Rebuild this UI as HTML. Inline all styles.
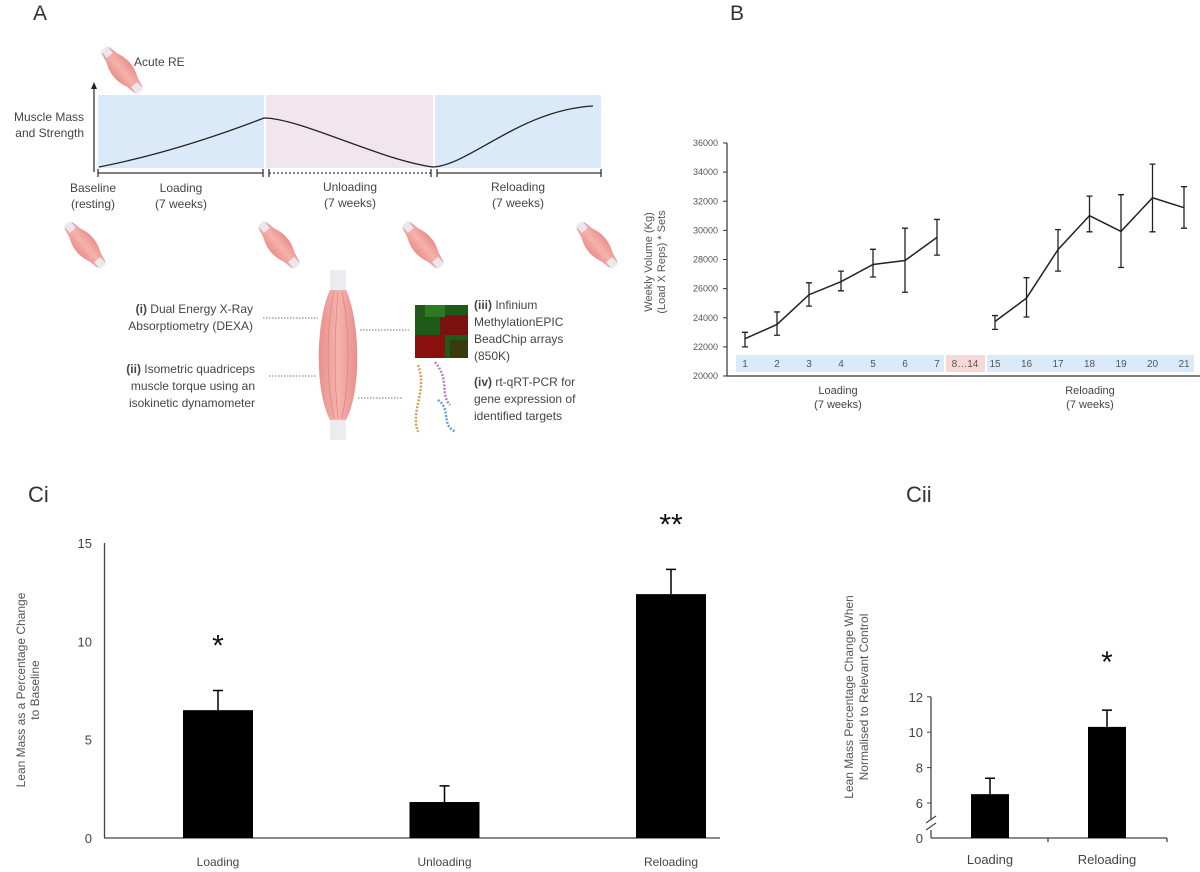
<!DOCTYPE html>
<html><head><meta charset="utf-8"><style>
html,body{margin:0;padding:0;background:#fff;width:1200px;height:872px;overflow:hidden}
svg{display:block;font-family:"Liberation Sans",sans-serif}
</style></head><body>
<svg width="1200" height="872" viewBox="0 0 1200 872">
<defs>
<linearGradient id="mus" x1="0" x2="1"><stop offset="0" stop-color="#e98f8c"/><stop offset="0.5" stop-color="#f5b3ac"/><stop offset="1" stop-color="#e98f8c"/></linearGradient>
<g id="smallmuscle"><path d="M-5,-26 L5,-26 L7,-16 C12,-5 12,5 7,16 L5,26 L-5,26 L-7,16 C-12,5 -12,-5 -7,-16 Z" fill="url(#mus)"/><rect x="-4" y="-28" width="8" height="9" fill="#e8e8ee"/><rect x="-4" y="19" width="8" height="9" fill="#e8e8ee"/></g>
</defs>

<!-- PANEL A -->
<g>
<text x="33" y="20" font-size="21" fill="#333">A</text>
<use href="#smallmuscle" transform="translate(122,70) rotate(-40)"/>
<text x="134" y="66" font-size="12" fill="#444">Acute RE</text>
<rect x="98" y="95" width="166" height="73" fill="#dbeaf8"/>
<rect x="266" y="95" width="167" height="73" fill="#f1e6ee"/>
<rect x="435" y="95" width="166" height="73" fill="#dbeaf8"/>
<line x1="94" y1="172" x2="94" y2="88" stroke="#222" stroke-width="1.2"/>
<path d="M91,89 L94,82 L97,89 Z" fill="#222"/>
<text x="84" y="121" font-size="12" fill="#444" text-anchor="end"><tspan x="84">Muscle Mass</tspan><tspan x="84" dy="16">and Strength</tspan></text>
<path d="M99,167 C160,155 220,135 264,118 C300,118 380,160 433,167 C470,165 520,110 593,106" fill="none" stroke="#222" stroke-width="1.3"/>
<g stroke="#333" stroke-width="1.3">
<line x1="98" y1="173" x2="263" y2="173"/><line x1="98" y1="169" x2="98" y2="177"/><line x1="263" y1="169" x2="263" y2="177"/>
<line x1="269" y1="173" x2="431" y2="173" stroke-dasharray="2,2"/><line x1="269" y1="169" x2="269" y2="177"/><line x1="431" y1="169" x2="431" y2="177"/>
<line x1="437" y1="173" x2="601" y2="173"/><line x1="437" y1="169" x2="437" y2="177"/><line x1="601" y1="169" x2="601" y2="177"/>
</g>
<g font-size="12" fill="#444" text-anchor="middle">
<text x="93" y="192"><tspan x="93">Baseline</tspan><tspan x="93" dy="16">(resting)</tspan></text>
<text x="181" y="192"><tspan x="181">Loading</tspan><tspan x="181" dy="16">(7 weeks)</tspan></text>
<text x="350" y="191"><tspan x="350">Unloading</tspan><tspan x="350" dy="16">(7 weeks)</tspan></text>
<text x="518" y="191"><tspan x="518">Reloading</tspan><tspan x="518" dy="16">(7 weeks)</tspan></text>
</g>
<use href="#smallmuscle" transform="translate(85,245) rotate(-40)"/>
<use href="#smallmuscle" transform="translate(279,245) rotate(-40)"/>
<use href="#smallmuscle" transform="translate(423,245) rotate(-40)"/>
<use href="#smallmuscle" transform="translate(597,245) rotate(-40)"/>
<g>
<rect x="330" y="270" width="16" height="22" fill="#ececf0"/>
<rect x="330" y="418" width="16" height="22" fill="#ececf0"/>
<path d="M330,290 L346,290 C360,320 362,390 346,420 L330,420 C314,390 316,320 330,290 Z" fill="url(#mus)"/>
<g stroke="#d87c7a" stroke-width="0.6" fill="none"><path d="M334,292 C326,330 326,380 334,418"/><path d="M338,292 C334,340 334,380 338,418"/><path d="M342,292 C350,330 350,380 342,418"/></g>
</g>
<g font-size="12" fill="#444" text-anchor="end">
<text x="253" y="313"><tspan x="253"><tspan font-weight="bold">(i)</tspan> Dual Energy X-Ray</tspan><tspan x="253" dy="17">Absorptiometry (DEXA)</tspan></text>
<text x="255" y="373"><tspan x="255"><tspan font-weight="bold">(ii)</tspan> Isometric quadriceps</tspan><tspan x="255" dy="17">muscle torque using an</tspan><tspan x="255" dy="17">isokinetic dynamometer</tspan></text>
</g>
<g stroke="#777" stroke-width="1" stroke-dasharray="1.5,1.5">
<line x1="263" y1="318" x2="318" y2="318"/><line x1="269" y1="376" x2="316" y2="376"/>
<line x1="360" y1="330" x2="409" y2="330"/><line x1="358" y1="398" x2="403" y2="398"/>
</g>
<g>
<rect x="415" y="305" width="53" height="53" fill="#1f5a18"/>
<rect x="440" y="315" width="28" height="20" fill="#7a1212"/>
<rect x="415" y="335" width="30" height="23" fill="#8a1010"/>
<rect x="425" y="305" width="20" height="12" fill="#2e7a20"/>
<rect x="450" y="340" width="18" height="18" fill="#3a3a10"/>
</g>
<g font-size="12" fill="#444">
<text x="474" y="309"><tspan x="474"><tspan font-weight="bold">(iii)</tspan> Infinium</tspan><tspan x="474" dy="17">MethylationEPIC</tspan><tspan x="474" dy="17">BeadChip arrays</tspan><tspan x="474" dy="17">(850K)</tspan></text>
<text x="474" y="386"><tspan x="474"><tspan font-weight="bold">(iv)</tspan> rt-qRT-PCR for</tspan><tspan x="474" dy="17">gene expression of</tspan><tspan x="474" dy="17">identified targets</tspan></text>
</g>
<g fill="none" stroke-width="2.5" stroke-dasharray="2,1.5">
<path d="M418,365 C428,390 410,410 418,432" stroke="#d8a04a"/>
<path d="M435,362 C450,380 440,395 450,405" stroke="#c07acb"/>
<path d="M438,400 C452,410 440,425 456,432" stroke="#6a9fd8"/>
</g>
</g>

<!-- PANEL B -->
<text x="730" y="20" font-size="21" fill="#333">B</text>
<g id="chartB"></g>

<!-- PANEL Ci -->
<text x="28" y="502" font-size="22" fill="#333">Ci</text>
<g id="chartCi"></g>

<!-- PANEL Cii -->
<text x="906" y="502" font-size="22" fill="#333">Cii</text>
<g id="chartCii"></g>
</svg>

<script>
// ---- Panel B data ----
const bWeeks = [1,2,3,4,5,6,7,15,16,17,18,19,20,21];
const bMeans = [22560,23540,25580,26480,27660,27930,29520,23740,25350,28680,31010,29930,32240,31560];
const bLow   = [22000,22800,24800,25850,26800,25750,28300,23200,24050,27200,29900,27450,29900,30150];
const bHigh  = [23000,24400,26400,27200,28700,30150,30750,24150,26750,30050,32350,32450,34550,33000];
const bTicks = [20000,22000,24000,26000,28000,30000,32000,34000,36000];

// ---- Panel Ci data ----
const ciCats = ["Loading","Unloading","Reloading"];
const ciVals = [6.5,1.83,12.4];
const ciErr  = [1.0,0.82,1.26];
const ciSig  = ["*","","**"];
const ciTicks = [0,5,10,15];

// ---- Panel Cii data ----
const ciiCats = ["Loading","Reloading"];
const ciiVals = [6.5,10.3];
const ciiErr  = [0.9,0.95];
const ciiSig  = ["","*"];
const ciiTicks = [6,8,10,12];

const NS = "http://www.w3.org/2000/svg";
function mk(parent, tag, attrs, text){
  const e = document.createElementNS(NS, tag);
  for (const k in attrs) e.setAttribute(k, attrs[k]);
  if (text !== undefined) e.textContent = text;
  parent.appendChild(e); return e;
}

// ===== B =====
(function(){
  const g = document.getElementById('chartB');
  const y = v => 376 - (v - 20000) * (233/16000);
  const x = w => w <= 7 ? 745 + (w-1)*32 : 995 + (w-15)*31.5;
  let r = mk(g,'rect',{x:736,y:355,width:208,height:17,fill:'#dbeaf8'});
   
  r = mk(g,'rect',{x:946,y:355,width:39,height:17,fill:'#f6d9d6'});
   
  r = mk(g,'rect',{x:987,y:355,width:207,height:17,fill:'#dbeaf8'});
   
  let ax = mk(g,'line',{x1:727,y1:y(36000),x2:727,y2:376,stroke:'#333','stroke-width':1.2});
   
  ax = mk(g,'line',{x1:727,y1:376,x2:1200,y2:376,stroke:'#333','stroke-width':1.2});
   
  bTicks.forEach(t=>{
    mk(g,'line',{x1:723,y1:y(t),x2:727,y2:y(t),stroke:'#333'});
    const tl = mk(g,'text',{x:718,y:y(t)+3,'font-size':9,fill:'#555','text-anchor':'end'},String(t));
     
  });
  bWeeks.forEach(w=>{
    const tl = mk(g,'text',{x:x(w),y:367,'font-size':10,fill:'#555','text-anchor':'middle'},String(w));
     
  });
  let t8 = mk(g,'text',{x:965,y:367,'font-size':10,fill:'#555','text-anchor':'middle'},'8…14');
   
  [[0,7],[7,14]].forEach((seg,si)=>{
    let d='';
    for(let i=seg[0];i<seg[1];i++) d += (i===seg[0]?'M':'L') + x(bWeeks[i]) + ',' + y(bMeans[i]);
    const p = mk(g,'path',{d:d,fill:'none',stroke:'#222','stroke-width':1.5});
    
    
  });
  bWeeks.forEach((w,i)=>{
    const eb = mk(g,'path',{d:`M${x(w)},${y(bLow[i])}V${y(bHigh[i])}M${x(w)-3},${y(bLow[i])}h6M${x(w)-3},${y(bHigh[i])}h6`,stroke:'#222','stroke-width':1.3,fill:'none'});
     
  });
  let l = mk(g,'text',{x:838,y:394,'font-size':11,fill:'#444','text-anchor':'middle'});
   
  mk(l,'tspan',{x:838},'Loading'); mk(l,'tspan',{x:838,dy:14},'(7 weeks)');
  l = mk(g,'text',{x:1090,y:394,'font-size':11,fill:'#444','text-anchor':'middle'});
   
  mk(l,'tspan',{x:1090},'Reloading'); mk(l,'tspan',{x:1090,dy:14},'(7 weeks)');
  l = mk(g,'text',{transform:'translate(652,262) rotate(-90)','font-size':11,fill:'#555','text-anchor':'middle'});
   
  mk(l,'tspan',{x:0,y:0},'Weekly Volume (Kg)'); mk(l,'tspan',{x:0,y:13},'(Load X Reps) * Sets');
})();

// ===== Ci =====
(function(){
  const g = document.getElementById('chartCi');
  const y = v => 838 - v * (295/15);
  const xc = i => 218 + i*226.5;
  let ax = mk(g,'line',{x1:104.5,y1:y(15),x2:104.5,y2:838,stroke:'#444','stroke-width':1.3});
   
  ax = mk(g,'line',{x1:104,y1:838,x2:720,y2:838,stroke:'#444','stroke-width':1.3});
   
  ciTicks.forEach(t=>{
    const tl = mk(g,'text',{x:92,y:y(t)+5,'font-size':13,fill:'#444','text-anchor':'end'},String(t));
     
  });
  ciCats.forEach((c,i)=>{
    const b = mk(g,'rect',{x:xc(i)-35,y:y(ciVals[i]),width:70,height:838-y(ciVals[i]),fill:'#000'});
     
    const eb = mk(g,'path',{d:`M${xc(i)},${y(ciVals[i])}V${y(ciVals[i]+ciErr[i])}M${xc(i)-5},${y(ciVals[i]+ciErr[i])}h10`,stroke:'#000','stroke-width':1.5,fill:'none'});
     
    const tl = mk(g,'text',{x:xc(i),y:866,'font-size':12,fill:'#444','text-anchor':'middle'},c);
     
    if (ciSig[i]) {
      const s = mk(g,'text',{x:xc(i),y:y(ciVals[i]+ciErr[i]) - 35,'font-size':30,fill:'#111','text-anchor':'middle'},ciSig[i]);
       
    }
  });
  const l = mk(g,'text',{transform:'translate(25,690) rotate(-90)','font-size':12,fill:'#555','text-anchor':'middle'});
   
  mk(l,'tspan',{x:0,y:0},'Lean Mass as a Percentage Change'); mk(l,'tspan',{x:0,y:14},'to Baseline');
})();

// ===== Cii =====
(function(){
  const g = document.getElementById('chartCii');
  const y = v => 803 - (v - 6) * 17.7;
  const xc = i => 990 + i*117;
  let ax = mk(g,'path',{d:'M931,697V820M931,830V838',stroke:'#444','stroke-width':1.3,fill:'none'});
   
  const br = mk(g,'path',{d:'M926,823 L936,816 M926,830 L936,823',stroke:'#444','stroke-width':1.2});
   
  ax = mk(g,'path',{d:'M931,838H1167M1048,838v4M1167,838v4',stroke:'#444','stroke-width':1.3,fill:'none'});
   
  ciiTicks.forEach(t=>{
    mk(g,'line',{x1:927,y1:y(t),x2:931,y2:y(t),stroke:'#444'});
    const tl = mk(g,'text',{x:923,y:y(t)+5,'font-size':13,fill:'#444','text-anchor':'end'},String(t));
     
  });
  const z = mk(g,'text',{x:923,y:843,'font-size':13,fill:'#444','text-anchor':'end'},'0');
   
  ciiCats.forEach((c,i)=>{
    const b = mk(g,'rect',{x:xc(i)-19,y:y(ciiVals[i]),width:38,height:838-y(ciiVals[i]),fill:'#000'});
     
    const eb = mk(g,'path',{d:`M${xc(i)},${y(ciiVals[i])}V${y(ciiVals[i]+ciiErr[i])}M${xc(i)-5},${y(ciiVals[i]+ciiErr[i])}h10`,stroke:'#000','stroke-width':1.5,fill:'none'});
     
    const tl = mk(g,'text',{x:xc(i),y:864,'font-size':13,fill:'#444','text-anchor':'middle'},c);
     
    if (ciiSig[i]) {
      const s = mk(g,'text',{x:xc(i),y:y(ciiVals[i]+ciiErr[i]) - 38,'font-size':30,fill:'#111','text-anchor':'middle'},ciiSig[i]);
       
    }
  });
  const l = mk(g,'text',{transform:'translate(853,697) rotate(-90)','font-size':12,fill:'#555','text-anchor':'middle'});
   
  mk(l,'tspan',{x:0,y:0},'Lean Mass Percentage Change When'); mk(l,'tspan',{x:0,y:15},'Normalised to Relevant Control');
})();
</script>
</body></html>
